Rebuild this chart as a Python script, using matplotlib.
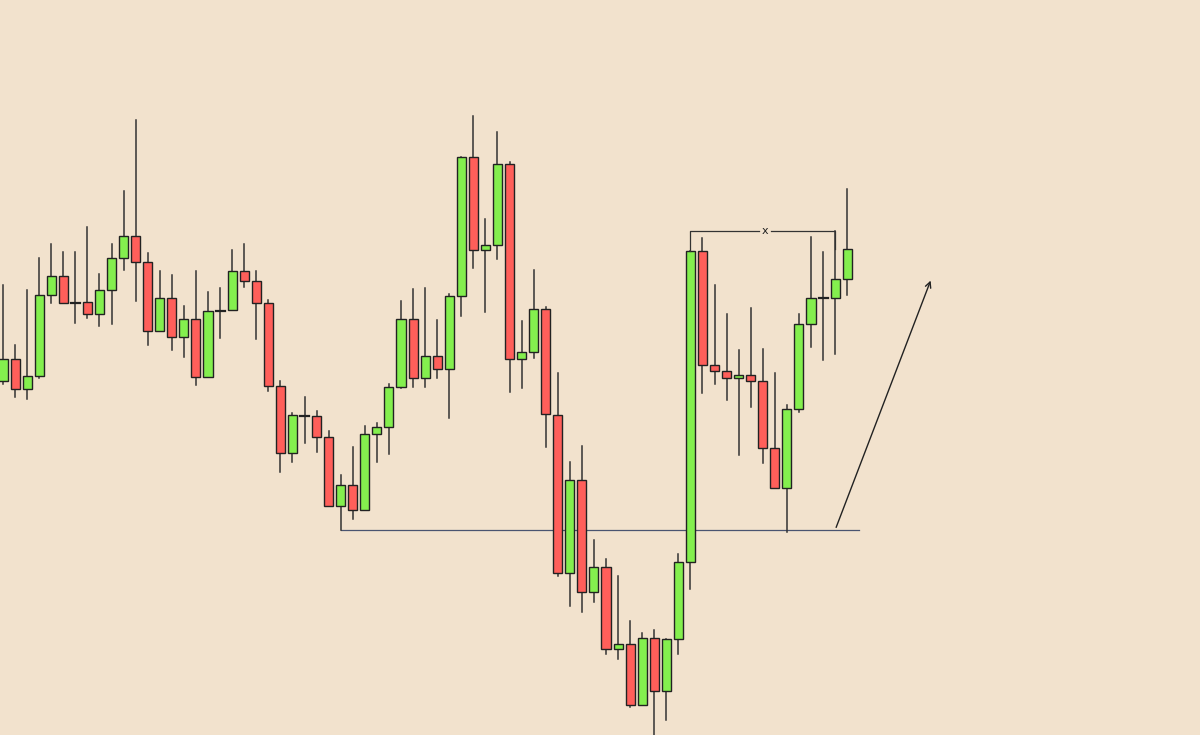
import matplotlib
matplotlib.use("Agg")
import matplotlib.pyplot as plt
from matplotlib.patches import Rectangle

# candle values (price units, larger = lower on screen)
opens = [381, 359, 389, 376, 295, 276, 303, 302, 314, 290, 258, 236, 262, 331, 298, 337, 319, 377,
         311, 310, 271, 281, 303, 386, 453, 416, 416, 437, 506, 485, 510, 434, 427, 387, 319, 378,
         356, 369, 296, 157, 250, 245, 164, 359, 352, 309, 415, 573, 480, 592, 567, 649, 644, 705,
         638, 691, 639, 562, 251, 365, 371, 378, 375, 381, 448, 488, 409, 324, 298, 298, 279]
closes = [359, 389, 376, 295, 276, 303, 302, 314, 290, 258, 236, 262, 331, 298, 337, 319, 377, 311,
          310, 271, 281, 303, 386, 453, 415, 416, 437, 506, 485, 510, 434, 427, 387, 319, 378, 356,
          369, 296, 157, 250, 245, 164, 359, 352, 309, 414, 573, 480, 592, 567, 649, 644, 705, 638,
          691, 639, 562, 251, 365, 371, 378, 375, 381, 448, 488, 409, 324, 298, 298, 279, 249]
highs = [285, 345, 290, 258, 244, 252, 252, 227, 274, 244, 191, 120, 253, 271, 275, 306, 271, 292,
         288, 250, 244, 271, 300, 381, 413, 397, 411, 431, 475, 447, 426, 423, 384, 301, 289, 288,
         320, 294, 157, 116, 219, 132, 162, 321, 270, 307, 373, 462, 446, 540, 559, 576, 621, 633,
         630, 639, 554, 251, 238, 285, 314, 350, 308, 349, 373, 405, 314, 237, 252, 231, 189]
lows = [384, 397, 399, 378, 303, 303, 323, 318, 326, 324, 270, 301, 345, 331, 350, 357, 385, 377,
        338, 310, 287, 339, 391, 472, 462, 443, 452, 506, 530, 519, 510, 462, 454, 388, 387, 387,
        378, 418, 316, 268, 312, 259, 392, 388, 358, 447, 576, 606, 612, 602, 654, 659, 707, 705,
        735, 720, 654, 589, 393, 384, 400, 455, 407, 463, 488, 532, 412, 347, 360, 354, 295]

BG = "#f2e2cd"
UP = "#84ef4e"
DOWN = "#ff5f5a"
EDGE = "#222222"

fig = plt.figure(figsize=(12, 7.35), dpi=100, facecolor=BG)
ax = fig.add_axes([0, 0, 1, 1], facecolor=BG)
step = 12.06
ax.set_xlim(-3 / step, (1200 - 3) / step)
ax.set_ylim(735, 0)
ax.axis("off")

w = 0.75
for i, (o, c, h, l) in enumerate(zip(opens, closes, highs, lows)):
    ax.plot([i, i], [h, l], color="#333333", lw=1.1, zorder=1)
    color = UP if c < o else DOWN
    if abs(o - c) < 1.5:
        ax.plot([i - w / 2, i + w / 2], [o, o], color=EDGE, lw=1.6, zorder=2)
    else:
        ax.add_patch(Rectangle((i - w / 2, min(o, c)), w, abs(o - c),
                               facecolor=color, edgecolor=EDGE, lw=1, zorder=2))

# support line and annotation
ax.plot([28, 71.0], [530, 530], color="#4a5470", lw=0.9, zorder=0)
ax.plot([57, 57, 62.7], [251, 231, 231], color="#333333", lw=0.9)
ax.plot([63.7, 69, 69], [231, 231, 249], color="#333333", lw=0.9)
ax.text(63.2, 231, "x", ha="center", va="center", fontsize=8, color="#222222")
ax.annotate("", xy=(77.0, 278), xytext=(69, 530),
            arrowprops=dict(arrowstyle="->", color="#222222", lw=1))

fig.savefig("out.png", dpi=100, facecolor=BG)
